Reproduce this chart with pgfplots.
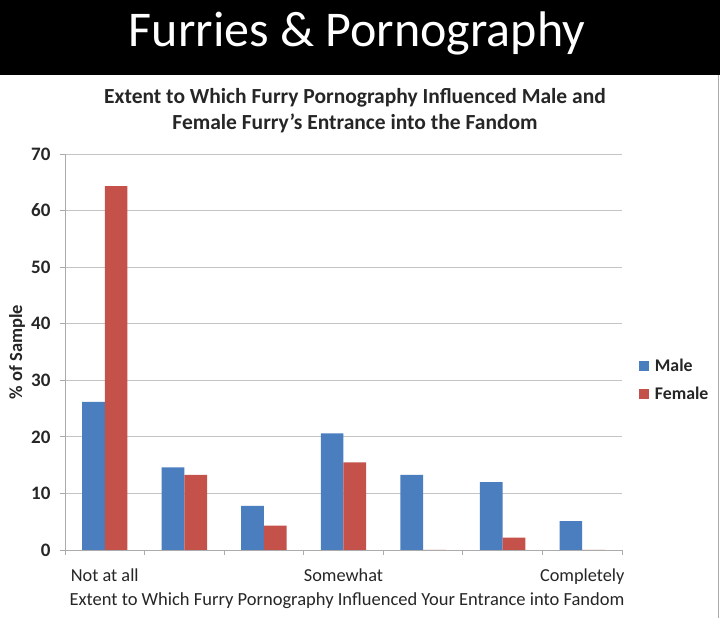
\documentclass[border=0pt]{standalone}
\usepackage{fontspec}
\setmainfont{Carlito}
\usepackage{pgfplots}
\usepackage{pgfplotstable}
\pgfplotsset{compat=1.18}
\definecolor{maleblue}{HTML}{4A7EBF}
\definecolor{femred}{HTML}{C4524A}
\definecolor{gridgray}{HTML}{C4C4C4}
\definecolor{axgray}{HTML}{ABABAB}
\definecolor{txt}{HTML}{262626}
\pgfplotstableread{
x male female
0 26.2 64.3
1 14.6 13.3
2 7.8 4.3
3 20.6 15.5
4 13.3 0
5 12.0 2.2
6 5.1 0
}\datatable
\begin{document}
\begin{tikzpicture}[x=1pt,y=1pt]
\path[use as bounding box] (0,0) rectangle (720,618);
\fill[white] (0,0) rectangle (720,618);
\fill[black] (0,543) rectangle (720,618);
\draw[axgray, line width=1pt] (718.5,0) -- (718.5,543);
\node[white, font=\fontsize{50}{52}\selectfont, anchor=base, inner sep=0pt] at (357,571) {Furries \& Pornography};
\node[txt, font=\bfseries\fontsize{21.5}{24}\selectfont, anchor=base, inner sep=0pt] at (355,514) {Extent to Which Furry Pornography Influenced Male and};
\node[txt, font=\bfseries\fontsize{21.5}{24}\selectfont, anchor=base, inner sep=0pt] at (355,488) {Female Furry’s Entrance into the Fandom};
\node[txt, font=\bfseries\fontsize{18.5}{20}\selectfont, rotate=90, inner sep=0pt] at (17,266) {\% of Sample};
\node[txt, font=\fontsize{18.5}{20}\selectfont, anchor=base, inner sep=0pt] at (347,12) {Extent to Which Furry Pornography Influenced Your Entrance into Fandom};
\begin{axis}[
  at={(65pt,68pt)}, anchor=south west,
  scale only axis, width=557pt, height=396pt,
  ymin=0, ymax=70, xmin=-0.5, xmax=6.5,
  ybar=0pt, bar width=22.7pt,
  ytick={0,10,...,70},
  xtick={-0.5,0.5,...,6.5}, xticklabels={},
  extra x ticks={0,3,6},
  extra x tick labels={Not at all,Somewhat,Completely},
  extra x tick style={major tick length=0pt, grid=none},
  axis x line*=bottom, axis y line*=left,
  axis line style={draw=axgray, line width=0.9pt},
  ymajorgrids, grid style={draw=gridgray, line width=0.9pt},
  tick style={draw=axgray, line width=0.9pt},
  tick align=outside, major tick length=5pt,
  /pgf/number format/assume math mode=true,
  yticklabel style={font=\bfseries\fontsize{19}{20}\selectfont, text=txt, xshift=-6pt},
  xticklabel style={font=\fontsize{18.3}{20}\selectfont, text=txt, yshift=-15pt},
  legend image code/.code={\fill[#1, draw=none] (0pt,-5pt) rectangle (10pt,5pt);},
  legend style={at={(1.03,0.43)}, anchor=west, draw=none, fill=none,
    font=\bfseries\fontsize{17.8}{18}\selectfont, text=txt, row sep=10pt,
    inner sep=0pt, column sep=4pt},
  legend cell align=left,
]
\addplot[fill=maleblue, draw=none] table[x=x, y=male] {\datatable};
\addplot[fill=femred, draw=none] table[x=x, y=female] {\datatable};
\legend{Male, Female}
\end{axis}
\end{tikzpicture}
\end{document}
